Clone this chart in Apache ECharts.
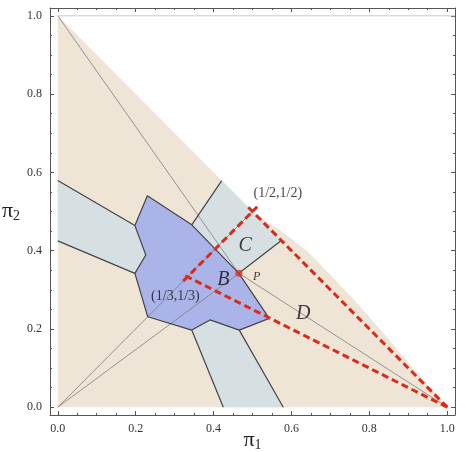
<!DOCTYPE html>
<html>
<head>
<meta charset="utf-8">
<script src="https://cdn.jsdelivr.net/npm/echarts@6/dist/echarts.min.js"></script>
<style>
  html, body { margin: 0; padding: 0; background: #fff; }
  #chart { width: 468px; height: 452px; }
</style>
</head>
<body>
<div id="chart"></div>
<script>
// regions of the simplex (pi1, pi2)
const simplex = [[0, 0], [1, 0], [0, 1]]
const regionD = [[0.5, 0.5], [0.58, 0.445], [0.64, 0.40], [0.70, 0.338], [0.76, 0.275], [0.84, 0.185], [0.92, 0.09], [1, 0]]
const regionLeft = [[0, 0.579], [0.198, 0.464], [0.226, 0.389], [0.198, 0.342], [0, 0.425]]
const regionBottom = [[0.344, 0.197], [0.391, 0.223], [0.466, 0.197], [0.579, 0], [0.425, 0]]
const regionC = [[0.344, 0.466], [0.421, 0.579], [0.574, 0.426], [0.465, 0.342]]
const regionB = [
  [0.230, 0.540], [0.344, 0.466], [0.465, 0.342], [0.543, 0.227], [0.466, 0.197],
  [0.391, 0.223], [0.344, 0.197], [0.231, 0.231], [0.198, 0.342], [0.226, 0.389], [0.198, 0.464]
]
const pointP = [0.465, 0.342]

// dark borders between regions
const borders = [
  [[0, 0.579], [0.198, 0.464], [0.230, 0.540], [0.344, 0.466], [0.421, 0.579]],
  [[0, 0.425], [0.198, 0.342], [0.231, 0.231], [0.344, 0.197], [0.425, 0]],
  [[0.198, 0.464], [0.226, 0.389], [0.198, 0.342]],
  [[0.344, 0.197], [0.391, 0.223], [0.466, 0.197], [0.579, 0]],
  [[0.466, 0.197], [0.543, 0.227], [0.465, 0.342], [0.574, 0.426]],
  [[0.344, 0.466], [0.465, 0.342]]
]
// thin lines from the vertices through P, and the diagonal
const guides = [
  [[0, 1], pointP],
  [[0, 0], pointP],
  [[1, 0], pointP],
  [[0, 0], [0.5, 0.5]]
]
// red dashed lines
const dashed = [
  [[0.322, 0.322], [0.512, 0.512]],
  [[1, 0], [0.488, 0.512]],
  [[1, 0], [0.321, 0.339]]
]
const labels = [
  { name: '(1/2,1/2)', value: [0.565, 0.547], size: 14, italic: false },
  { name: '(1/3,1/3)', value: [0.302, 0.282], size: 14, italic: false },
  { name: 'C', value: [0.481, 0.412], size: 20, italic: true },
  { name: 'B', value: [0.425, 0.325], size: 20, italic: true },
  { name: 'P', value: [0.511, 0.334], size: 12, italic: true },
  { name: 'D', value: [0.630, 0.240], size: 20, italic: true }
]
const majorTicks = [0, 0.2, 0.4, 0.6, 0.8, 1.0]
const minorTicks = [0, 0.05, 0.1, 0.15, 0.2, 0.25, 0.3, 0.35, 0.4, 0.45, 0.5, 0.55, 0.6, 0.65, 0.7, 0.75, 0.8, 0.85, 0.9, 0.95, 1.0]

const serif = '"Liberation Serif", "DejaVu Serif", serif'
const frameColor = '#555'

function polySeries(pts, color, z) {
  return {
    type: 'custom',
    coordinateSystem: 'cartesian2d',
    z: z,
    silent: true,
    data: [0],
    renderItem: function (params, api) {
      return {
        type: 'polygon',
        shape: { points: pts.map(p => api.coord(p)) },
        style: { fill: color, stroke: null }
      }
    }
  }
}

function lineSeries(pts, color, width, type, z) {
  return {
    type: 'line',
    data: pts,
    showSymbol: false,
    silent: true,
    z: z,
    lineStyle: { color: color, width: width, type: type }
  }
}

function axisBase(pos, withLabels) {
  return {
    type: 'value',
    position: pos,
    min: -0.02,
    max: 1.02,
    splitLine: { show: false },
    axisLine: { show: true, onZero: false, lineStyle: { color: frameColor, width: 1 } },
    axisTick: { show: true, inside: true, length: 4, customValues: majorTicks, lineStyle: { color: frameColor } },
    minorTick: { show: false },
    axisLabel: {
      show: withLabels,
      customValues: majorTicks,
      formatter: v => v.toFixed(1),
      color: '#333',
      fontFamily: serif,
      fontSize: 12
    }
  }
}

// minor ticks as extra axes without line
function minorAxis(pos) {
  return {
    type: 'value', position: pos, min: -0.02, max: 1.02,
    splitLine: { show: false },
    axisLine: { show: false, onZero: false },
    axisTick: { show: true, inside: true, length: 2, customValues: minorTicks, lineStyle: { color: frameColor } },
    axisLabel: { show: false }
  }
}

const chart = echarts.init(document.getElementById('chart'))

const nameStyle = {
  rich: {
    p: { fontFamily: serif, fontSize: 22, color: '#222' },
    s: { fontFamily: serif, fontSize: 14, color: '#222', padding: [10, 0, 0, 0] }
  }
}
const xBottom = axisBase('bottom', true)
xBottom.name = '{p|π}{s|1}'
xBottom.nameLocation = 'middle'
xBottom.nameGap = 13
xBottom.nameMoveOverlap = false
xBottom.nameTextStyle = nameStyle
const xTop = axisBase('top', false)
const yLeft = axisBase('left', true)
yLeft.name = '{p|π}{s|2}'
yLeft.nameLocation = 'middle'
yLeft.nameRotate = 0
yLeft.nameGap = 30
yLeft.nameMoveOverlap = false
yLeft.nameTextStyle = nameStyle
const yRight = axisBase('right', false)

const series = [
  polySeries(simplex, '#efe5d6', 1),
  polySeries(regionD, '#efe5d6', 1),
  polySeries(regionLeft, '#d6e0e2', 2),
  polySeries(regionBottom, '#d6e0e2', 2),
  polySeries(regionC, '#d6e0e2', 2),
  polySeries(regionB, '#aab4e8', 2)
]
guides.forEach(g => series.push(lineSeries(g, '#7e7e7e', 0.8, 'solid', 3)))
borders.forEach(b => series.push(lineSeries(b, '#444', 1.2, 'solid', 4)))
series.push(lineSeries([[0, 1], [1.02, 1]], '#c8c8c8', 1, 'solid', 3))
dashed.forEach(d => series.push(lineSeries(d, '#dc2a1a', 3, [7, 4], 5)))
series.push({
  type: 'scatter',
  data: [pointP],
  symbolSize: 7,
  itemStyle: { color: '#e0301e' },
  z: 6,
  silent: true
})
series.push({
  type: 'scatter',
  data: labels.map(l => ({
    name: l.name,
    value: l.value,
    label: { fontSize: l.size, fontStyle: l.italic ? 'italic' : 'normal' }
  })),
  symbolSize: 0,
  z: 7,
  silent: true,
  label: {
    show: true,
    position: 'inside',
    formatter: '{b}',
    color: '#111',
    fontFamily: serif
  }
})

chart.setOption({
  animation: false,
  grid: { left: 50, right: 13, top: 8, bottom: 37, containLabel: false, outerBoundsMode: 'none' },
  xAxis: [xBottom, xTop, minorAxis('bottom'), minorAxis('top')],
  yAxis: [yLeft, yRight, minorAxis('left'), minorAxis('right')],
  series: series
})
</script>
</body>
</html>
